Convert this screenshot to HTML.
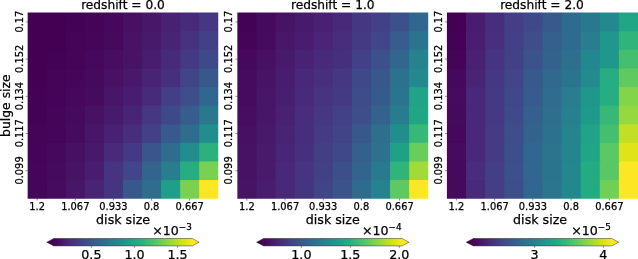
<!DOCTYPE html>
<html><head><meta charset="utf-8"><title>heatmaps</title>
<style>html,body{margin:0;padding:0;background:#fff}svg{display:block}text{font-family:"DejaVu Sans","Liberation Sans",sans-serif;fill:#000;stroke:#000;stroke-width:0.25px}</style></head><body>
<svg width="638" height="259" viewBox="0 0 638 259">
<rect width="638" height="259" fill="#fff"/>
<defs><linearGradient id="vg" x1="0" x2="1" y1="0" y2="0"><stop offset="0.0000" stop-color="#440154"/><stop offset="0.0625" stop-color="#48186a"/><stop offset="0.1250" stop-color="#472d7b"/><stop offset="0.1875" stop-color="#424086"/><stop offset="0.2500" stop-color="#3b528b"/><stop offset="0.3125" stop-color="#33638d"/><stop offset="0.3750" stop-color="#2c728e"/><stop offset="0.4375" stop-color="#26828e"/><stop offset="0.5000" stop-color="#21918c"/><stop offset="0.5625" stop-color="#1fa088"/><stop offset="0.6250" stop-color="#28ae80"/><stop offset="0.6875" stop-color="#3fbc73"/><stop offset="0.7500" stop-color="#5ec962"/><stop offset="0.8125" stop-color="#84d44b"/><stop offset="0.8750" stop-color="#addc30"/><stop offset="0.9375" stop-color="#d8e219"/><stop offset="1.0000" stop-color="#fde725"/></linearGradient></defs>
<g>
<rect x="26.15" y="11.10" width="22.06" height="21.60" fill="#440154"/>
<rect x="46.71" y="11.10" width="20.56" height="21.60" fill="#440154"/>
<rect x="65.77" y="11.10" width="20.56" height="21.60" fill="#440256"/>
<rect x="84.83" y="11.10" width="20.56" height="21.60" fill="#450457"/>
<rect x="103.89" y="11.10" width="20.56" height="21.60" fill="#46085c"/>
<rect x="122.95" y="11.10" width="20.56" height="21.60" fill="#471063"/>
<rect x="142.01" y="11.10" width="20.56" height="21.60" fill="#481769"/>
<rect x="161.07" y="11.10" width="20.56" height="21.60" fill="#482173"/>
<rect x="180.13" y="11.10" width="20.56" height="21.60" fill="#472a7a"/>
<rect x="199.19" y="11.10" width="20.56" height="21.60" fill="#453781"/>
<rect x="26.15" y="31.20" width="22.06" height="20.11" fill="#440154"/>
<rect x="46.71" y="31.20" width="20.56" height="20.11" fill="#440154"/>
<rect x="65.77" y="31.20" width="20.56" height="20.11" fill="#450457"/>
<rect x="84.83" y="31.20" width="20.56" height="20.11" fill="#450559"/>
<rect x="103.89" y="31.20" width="20.56" height="20.11" fill="#460a5d"/>
<rect x="122.95" y="31.20" width="20.56" height="20.11" fill="#471365"/>
<rect x="142.01" y="31.20" width="20.56" height="20.11" fill="#481a6c"/>
<rect x="161.07" y="31.20" width="20.56" height="20.11" fill="#482475"/>
<rect x="180.13" y="31.20" width="20.56" height="20.11" fill="#46337f"/>
<rect x="199.19" y="31.20" width="20.56" height="20.11" fill="#424086"/>
<rect x="26.15" y="49.81" width="22.06" height="20.10" fill="#440154"/>
<rect x="46.71" y="49.81" width="20.56" height="20.10" fill="#440256"/>
<rect x="65.77" y="49.81" width="20.56" height="20.10" fill="#450457"/>
<rect x="84.83" y="49.81" width="20.56" height="20.10" fill="#46085c"/>
<rect x="103.89" y="49.81" width="20.56" height="20.10" fill="#470d60"/>
<rect x="122.95" y="49.81" width="20.56" height="20.10" fill="#471365"/>
<rect x="142.01" y="49.81" width="20.56" height="20.10" fill="#481d6f"/>
<rect x="161.07" y="49.81" width="20.56" height="20.10" fill="#472a7a"/>
<rect x="180.13" y="49.81" width="20.56" height="20.10" fill="#443983"/>
<rect x="199.19" y="49.81" width="20.56" height="20.10" fill="#3e4989"/>
<rect x="26.15" y="68.41" width="22.06" height="20.11" fill="#440154"/>
<rect x="46.71" y="68.41" width="20.56" height="20.11" fill="#450457"/>
<rect x="65.77" y="68.41" width="20.56" height="20.11" fill="#450559"/>
<rect x="84.83" y="68.41" width="20.56" height="20.11" fill="#460a5d"/>
<rect x="103.89" y="68.41" width="20.56" height="20.11" fill="#471164"/>
<rect x="122.95" y="68.41" width="20.56" height="20.11" fill="#48186a"/>
<rect x="142.01" y="68.41" width="20.56" height="20.11" fill="#482475"/>
<rect x="161.07" y="68.41" width="20.56" height="20.11" fill="#46307e"/>
<rect x="180.13" y="68.41" width="20.56" height="20.11" fill="#414487"/>
<rect x="199.19" y="68.41" width="20.56" height="20.11" fill="#38588c"/>
<rect x="26.15" y="87.02" width="22.06" height="20.11" fill="#440256"/>
<rect x="46.71" y="87.02" width="20.56" height="20.11" fill="#450457"/>
<rect x="65.77" y="87.02" width="20.56" height="20.11" fill="#46085c"/>
<rect x="84.83" y="87.02" width="20.56" height="20.11" fill="#460b5e"/>
<rect x="103.89" y="87.02" width="20.56" height="20.11" fill="#481668"/>
<rect x="122.95" y="87.02" width="20.56" height="20.11" fill="#481d6f"/>
<rect x="142.01" y="87.02" width="20.56" height="20.11" fill="#472a7a"/>
<rect x="161.07" y="87.02" width="20.56" height="20.11" fill="#433e85"/>
<rect x="180.13" y="87.02" width="20.56" height="20.11" fill="#3d4e8a"/>
<rect x="199.19" y="87.02" width="20.56" height="20.11" fill="#31668e"/>
<rect x="26.15" y="105.62" width="22.06" height="20.10" fill="#440256"/>
<rect x="46.71" y="105.62" width="20.56" height="20.10" fill="#450559"/>
<rect x="65.77" y="105.62" width="20.56" height="20.10" fill="#460a5d"/>
<rect x="84.83" y="105.62" width="20.56" height="20.10" fill="#471164"/>
<rect x="103.89" y="105.62" width="20.56" height="20.10" fill="#481a6c"/>
<rect x="122.95" y="105.62" width="20.56" height="20.10" fill="#482475"/>
<rect x="142.01" y="105.62" width="20.56" height="20.10" fill="#453781"/>
<rect x="161.07" y="105.62" width="20.56" height="20.10" fill="#3e4989"/>
<rect x="180.13" y="105.62" width="20.56" height="20.10" fill="#365d8d"/>
<rect x="199.19" y="105.62" width="20.56" height="20.10" fill="#2a788e"/>
<rect x="26.15" y="124.23" width="22.06" height="20.11" fill="#450457"/>
<rect x="46.71" y="124.23" width="20.56" height="20.11" fill="#450559"/>
<rect x="65.77" y="124.23" width="20.56" height="20.11" fill="#460b5e"/>
<rect x="84.83" y="124.23" width="20.56" height="20.11" fill="#481668"/>
<rect x="103.89" y="124.23" width="20.56" height="20.11" fill="#482173"/>
<rect x="122.95" y="124.23" width="20.56" height="20.11" fill="#472e7c"/>
<rect x="142.01" y="124.23" width="20.56" height="20.11" fill="#424086"/>
<rect x="161.07" y="124.23" width="20.56" height="20.11" fill="#375a8c"/>
<rect x="180.13" y="124.23" width="20.56" height="20.11" fill="#2f6c8e"/>
<rect x="199.19" y="124.23" width="20.56" height="20.11" fill="#218e8d"/>
<rect x="26.15" y="142.84" width="22.06" height="20.10" fill="#450457"/>
<rect x="46.71" y="142.84" width="20.56" height="20.10" fill="#46085c"/>
<rect x="65.77" y="142.84" width="20.56" height="20.10" fill="#471063"/>
<rect x="84.83" y="142.84" width="20.56" height="20.10" fill="#48186a"/>
<rect x="103.89" y="142.84" width="20.56" height="20.10" fill="#472a7a"/>
<rect x="122.95" y="142.84" width="20.56" height="20.10" fill="#443a83"/>
<rect x="142.01" y="142.84" width="20.56" height="20.10" fill="#3a548c"/>
<rect x="161.07" y="142.84" width="20.56" height="20.10" fill="#2f6c8e"/>
<rect x="180.13" y="142.84" width="20.56" height="20.10" fill="#218e8d"/>
<rect x="199.19" y="142.84" width="20.56" height="20.10" fill="#2cb17e"/>
<rect x="26.15" y="161.44" width="22.06" height="20.10" fill="#450559"/>
<rect x="46.71" y="161.44" width="20.56" height="20.10" fill="#460a5d"/>
<rect x="65.77" y="161.44" width="20.56" height="20.10" fill="#471365"/>
<rect x="84.83" y="161.44" width="20.56" height="20.10" fill="#481d6f"/>
<rect x="103.89" y="161.44" width="20.56" height="20.10" fill="#463480"/>
<rect x="122.95" y="161.44" width="20.56" height="20.10" fill="#404688"/>
<rect x="142.01" y="161.44" width="20.56" height="20.10" fill="#32648e"/>
<rect x="161.07" y="161.44" width="20.56" height="20.10" fill="#287d8e"/>
<rect x="180.13" y="161.44" width="20.56" height="20.10" fill="#26ad81"/>
<rect x="199.19" y="161.44" width="20.56" height="20.10" fill="#7ad151"/>
<rect x="26.15" y="180.04" width="22.06" height="20.11" fill="#450559"/>
<rect x="46.71" y="180.04" width="20.56" height="20.11" fill="#460b5e"/>
<rect x="65.77" y="180.04" width="20.56" height="20.11" fill="#481668"/>
<rect x="84.83" y="180.04" width="20.56" height="20.11" fill="#482475"/>
<rect x="103.89" y="180.04" width="20.56" height="20.11" fill="#453581"/>
<rect x="122.95" y="180.04" width="20.56" height="20.11" fill="#38588c"/>
<rect x="142.01" y="180.04" width="20.56" height="20.11" fill="#2f6c8e"/>
<rect x="161.07" y="180.04" width="20.56" height="20.11" fill="#1f9e89"/>
<rect x="180.13" y="180.04" width="20.56" height="20.11" fill="#7ad151"/>
<rect x="199.19" y="180.04" width="20.56" height="20.11" fill="#fde725"/>
<path fill="#fff" fill-rule="evenodd" d="M24.65 9.60H221.25V201.65H24.65Z M27.65 12.60H218.25V198.65H27.65Z"/>
</g>
<text x="122.95" y="9.3" font-size="12.2" text-anchor="middle">redshift = 0.0</text>
<line x1="37.18" x2="37.18" y1="198.65" y2="200.55" stroke="#000" stroke-width="0.45"/>
<text x="37.18" y="209.8" font-size="9.9" text-anchor="middle">1.2</text>
<line x1="75.30" x2="75.30" y1="198.65" y2="200.55" stroke="#000" stroke-width="0.45"/>
<text x="75.30" y="209.8" font-size="9.9" text-anchor="middle">1.067</text>
<line x1="113.42" x2="113.42" y1="198.65" y2="200.55" stroke="#000" stroke-width="0.45"/>
<text x="113.42" y="209.8" font-size="9.9" text-anchor="middle">0.933</text>
<line x1="151.54" x2="151.54" y1="198.65" y2="200.55" stroke="#000" stroke-width="0.45"/>
<text x="151.54" y="209.8" font-size="9.9" text-anchor="middle">0.8</text>
<line x1="189.66" x2="189.66" y1="198.65" y2="200.55" stroke="#000" stroke-width="0.45"/>
<text x="189.66" y="209.8" font-size="9.9" text-anchor="middle">0.667</text>
<line x1="25.75" x2="27.65" y1="21.90" y2="21.90" stroke="#000" stroke-width="0.45"/>
<text transform="translate(22.70,21.60) rotate(-90)" font-size="9.9" text-anchor="middle">0.17</text>
<line x1="25.75" x2="27.65" y1="59.11" y2="59.11" stroke="#000" stroke-width="0.45"/>
<text transform="translate(22.70,58.81) rotate(-90)" font-size="9.9" text-anchor="middle">0.152</text>
<line x1="25.75" x2="27.65" y1="96.32" y2="96.32" stroke="#000" stroke-width="0.45"/>
<text transform="translate(22.70,96.02) rotate(-90)" font-size="9.9" text-anchor="middle">0.134</text>
<line x1="25.75" x2="27.65" y1="133.53" y2="133.53" stroke="#000" stroke-width="0.45"/>
<text transform="translate(22.70,133.23) rotate(-90)" font-size="9.9" text-anchor="middle">0.117</text>
<line x1="25.75" x2="27.65" y1="170.74" y2="170.74" stroke="#000" stroke-width="0.45"/>
<text transform="translate(22.70,170.44) rotate(-90)" font-size="9.9" text-anchor="middle">0.099</text>
<text x="123.10" y="223.8" font-size="12.65" text-anchor="middle">disk size</text>
<text transform="translate(10.0,105.62) rotate(-90)" font-size="12.4" text-anchor="middle">bulge size</text>
<polygon points="46.75,242.20 54.05,238.50 54.05,245.90" fill="#440154"/>
<polygon points="199.15,242.20 191.85,238.50 191.85,245.90" fill="#fde725"/>
<rect x="53.55" y="238.50" width="138.80" height="7.40" fill="url(#vg)"/>
<polygon points="46.75,242.20 53.55,238.50 192.35,238.50 199.15,242.20 192.35,245.90 53.55,245.90" fill="none" stroke="#000" stroke-width="0.5" stroke-opacity="0.8"/>
<line x1="91.40" x2="91.40" y1="245.90" y2="247.80" stroke="#000" stroke-width="0.45"/>
<text x="91.40" y="259.3" font-size="12.7" text-anchor="middle">0.5</text>
<line x1="134.50" x2="134.50" y1="245.90" y2="247.80" stroke="#000" stroke-width="0.45"/>
<text x="134.50" y="259.3" font-size="12.7" text-anchor="middle">1.0</text>
<line x1="177.60" x2="177.60" y1="245.90" y2="247.80" stroke="#000" stroke-width="0.45"/>
<text x="177.60" y="259.3" font-size="12.7" text-anchor="middle">1.5</text>
<text x="191.75" y="235.3" font-size="12.6" text-anchor="end">×10<tspan dy="-5.0" font-size="8.82">−3</tspan></text>
<g>
<rect x="235.85" y="11.10" width="22.09" height="21.60" fill="#440256"/>
<rect x="256.44" y="11.10" width="20.58" height="21.60" fill="#460a5d"/>
<rect x="275.52" y="11.10" width="20.59" height="21.60" fill="#471365"/>
<rect x="294.61" y="11.10" width="20.58" height="21.60" fill="#481a6c"/>
<rect x="313.69" y="11.10" width="20.58" height="21.60" fill="#482173"/>
<rect x="332.77" y="11.10" width="20.59" height="21.60" fill="#482979"/>
<rect x="351.86" y="11.10" width="20.58" height="21.60" fill="#453781"/>
<rect x="370.94" y="11.10" width="20.58" height="21.60" fill="#424186"/>
<rect x="390.03" y="11.10" width="20.59" height="21.60" fill="#3c508b"/>
<rect x="409.12" y="11.10" width="20.58" height="21.60" fill="#31678e"/>
<rect x="235.85" y="31.20" width="22.09" height="20.11" fill="#450457"/>
<rect x="256.44" y="31.20" width="20.58" height="20.11" fill="#460b5e"/>
<rect x="275.52" y="31.20" width="20.59" height="20.11" fill="#481769"/>
<rect x="294.61" y="31.20" width="20.58" height="20.11" fill="#481d6f"/>
<rect x="313.69" y="31.20" width="20.58" height="20.11" fill="#482576"/>
<rect x="332.77" y="31.20" width="20.59" height="20.11" fill="#472d7b"/>
<rect x="351.86" y="31.20" width="20.58" height="20.11" fill="#443a83"/>
<rect x="370.94" y="31.20" width="20.58" height="20.11" fill="#404688"/>
<rect x="390.03" y="31.20" width="20.59" height="20.11" fill="#365d8d"/>
<rect x="409.12" y="31.20" width="20.58" height="20.11" fill="#2b748e"/>
<rect x="235.85" y="49.81" width="22.09" height="20.10" fill="#46085c"/>
<rect x="256.44" y="49.81" width="20.58" height="20.10" fill="#471063"/>
<rect x="275.52" y="49.81" width="20.59" height="20.10" fill="#481a6c"/>
<rect x="294.61" y="49.81" width="20.58" height="20.10" fill="#482374"/>
<rect x="313.69" y="49.81" width="20.58" height="20.10" fill="#472a7a"/>
<rect x="332.77" y="49.81" width="20.59" height="20.10" fill="#46307e"/>
<rect x="351.86" y="49.81" width="20.58" height="20.10" fill="#424086"/>
<rect x="370.94" y="49.81" width="20.58" height="20.10" fill="#3c508b"/>
<rect x="390.03" y="49.81" width="20.59" height="20.10" fill="#31678e"/>
<rect x="409.12" y="49.81" width="20.58" height="20.10" fill="#26828e"/>
<rect x="235.85" y="68.41" width="22.09" height="20.11" fill="#460b5e"/>
<rect x="256.44" y="68.41" width="20.58" height="20.11" fill="#471365"/>
<rect x="275.52" y="68.41" width="20.59" height="20.11" fill="#481d6f"/>
<rect x="294.61" y="68.41" width="20.58" height="20.11" fill="#482878"/>
<rect x="313.69" y="68.41" width="20.58" height="20.11" fill="#46307e"/>
<rect x="332.77" y="68.41" width="20.59" height="20.11" fill="#453781"/>
<rect x="351.86" y="68.41" width="20.58" height="20.11" fill="#3f4889"/>
<rect x="370.94" y="68.41" width="20.58" height="20.11" fill="#38588c"/>
<rect x="390.03" y="68.41" width="20.59" height="20.11" fill="#2c728e"/>
<rect x="409.12" y="68.41" width="20.58" height="20.11" fill="#23898e"/>
<rect x="235.85" y="87.02" width="22.09" height="20.11" fill="#460b5e"/>
<rect x="256.44" y="87.02" width="20.58" height="20.11" fill="#481668"/>
<rect x="275.52" y="87.02" width="20.59" height="20.11" fill="#481f70"/>
<rect x="294.61" y="87.02" width="20.58" height="20.11" fill="#472a7a"/>
<rect x="313.69" y="87.02" width="20.58" height="20.11" fill="#463480"/>
<rect x="332.77" y="87.02" width="20.59" height="20.11" fill="#443a83"/>
<rect x="351.86" y="87.02" width="20.58" height="20.11" fill="#3e4c8a"/>
<rect x="370.94" y="87.02" width="20.58" height="20.11" fill="#375a8c"/>
<rect x="390.03" y="87.02" width="20.59" height="20.11" fill="#2c738e"/>
<rect x="409.12" y="87.02" width="20.58" height="20.11" fill="#20a386"/>
<rect x="235.85" y="105.62" width="22.09" height="20.10" fill="#470d60"/>
<rect x="256.44" y="105.62" width="20.58" height="20.10" fill="#481668"/>
<rect x="275.52" y="105.62" width="20.59" height="20.10" fill="#482173"/>
<rect x="294.61" y="105.62" width="20.58" height="20.10" fill="#472d7b"/>
<rect x="313.69" y="105.62" width="20.58" height="20.10" fill="#453781"/>
<rect x="332.77" y="105.62" width="20.59" height="20.10" fill="#424086"/>
<rect x="351.86" y="105.62" width="20.58" height="20.10" fill="#3c4f8a"/>
<rect x="370.94" y="105.62" width="20.58" height="20.10" fill="#33628d"/>
<rect x="390.03" y="105.62" width="20.59" height="20.10" fill="#287c8e"/>
<rect x="409.12" y="105.62" width="20.58" height="20.10" fill="#21a685"/>
<rect x="235.85" y="124.23" width="22.09" height="20.11" fill="#471063"/>
<rect x="256.44" y="124.23" width="20.58" height="20.11" fill="#48186a"/>
<rect x="275.52" y="124.23" width="20.59" height="20.11" fill="#482475"/>
<rect x="294.61" y="124.23" width="20.58" height="20.11" fill="#472e7c"/>
<rect x="313.69" y="124.23" width="20.58" height="20.11" fill="#443b84"/>
<rect x="332.77" y="124.23" width="20.59" height="20.11" fill="#414487"/>
<rect x="351.86" y="124.23" width="20.58" height="20.11" fill="#38588c"/>
<rect x="370.94" y="124.23" width="20.58" height="20.11" fill="#2e6f8e"/>
<rect x="390.03" y="124.23" width="20.59" height="20.11" fill="#218e8d"/>
<rect x="409.12" y="124.23" width="20.58" height="20.11" fill="#37b878"/>
<rect x="235.85" y="142.84" width="22.09" height="20.10" fill="#471164"/>
<rect x="256.44" y="142.84" width="20.58" height="20.10" fill="#481a6c"/>
<rect x="275.52" y="142.84" width="20.59" height="20.10" fill="#482576"/>
<rect x="294.61" y="142.84" width="20.58" height="20.10" fill="#46307e"/>
<rect x="313.69" y="142.84" width="20.58" height="20.10" fill="#423f85"/>
<rect x="332.77" y="142.84" width="20.59" height="20.10" fill="#3f4889"/>
<rect x="351.86" y="142.84" width="20.58" height="20.10" fill="#355f8d"/>
<rect x="370.94" y="142.84" width="20.58" height="20.10" fill="#2c728e"/>
<rect x="390.03" y="142.84" width="20.59" height="20.10" fill="#1fa188"/>
<rect x="409.12" y="142.84" width="20.58" height="20.10" fill="#69cd5b"/>
<rect x="235.85" y="161.44" width="22.09" height="20.10" fill="#471164"/>
<rect x="256.44" y="161.44" width="20.58" height="20.10" fill="#481a6c"/>
<rect x="275.52" y="161.44" width="20.59" height="20.10" fill="#482878"/>
<rect x="294.61" y="161.44" width="20.58" height="20.10" fill="#463480"/>
<rect x="313.69" y="161.44" width="20.58" height="20.10" fill="#424186"/>
<rect x="332.77" y="161.44" width="20.59" height="20.10" fill="#3c4f8a"/>
<rect x="351.86" y="161.44" width="20.58" height="20.10" fill="#32648e"/>
<rect x="370.94" y="161.44" width="20.58" height="20.10" fill="#297a8e"/>
<rect x="390.03" y="161.44" width="20.59" height="20.10" fill="#2fb47c"/>
<rect x="409.12" y="161.44" width="20.58" height="20.10" fill="#a2da37"/>
<rect x="235.85" y="180.04" width="22.09" height="20.11" fill="#471365"/>
<rect x="256.44" y="180.04" width="20.58" height="20.11" fill="#481d6f"/>
<rect x="275.52" y="180.04" width="20.59" height="20.11" fill="#482979"/>
<rect x="294.61" y="180.04" width="20.58" height="20.11" fill="#453581"/>
<rect x="313.69" y="180.04" width="20.58" height="20.11" fill="#404588"/>
<rect x="332.77" y="180.04" width="20.59" height="20.11" fill="#3a538b"/>
<rect x="351.86" y="180.04" width="20.58" height="20.11" fill="#2f6b8e"/>
<rect x="370.94" y="180.04" width="20.58" height="20.11" fill="#26828e"/>
<rect x="390.03" y="180.04" width="20.59" height="20.11" fill="#5ec962"/>
<rect x="409.12" y="180.04" width="20.58" height="20.11" fill="#fde725"/>
<path fill="#fff" fill-rule="evenodd" d="M234.35 9.60H431.20V201.65H234.35Z M237.35 12.60H428.20V198.65H237.35Z"/>
</g>
<text x="332.77" y="9.3" font-size="12.2" text-anchor="middle">redshift = 1.0</text>
<line x1="246.89" x2="246.89" y1="198.65" y2="200.55" stroke="#000" stroke-width="0.45"/>
<text x="246.89" y="209.8" font-size="9.9" text-anchor="middle">1.2</text>
<line x1="285.06" x2="285.06" y1="198.65" y2="200.55" stroke="#000" stroke-width="0.45"/>
<text x="285.06" y="209.8" font-size="9.9" text-anchor="middle">1.067</text>
<line x1="323.23" x2="323.23" y1="198.65" y2="200.55" stroke="#000" stroke-width="0.45"/>
<text x="323.23" y="209.8" font-size="9.9" text-anchor="middle">0.933</text>
<line x1="361.40" x2="361.40" y1="198.65" y2="200.55" stroke="#000" stroke-width="0.45"/>
<text x="361.40" y="209.8" font-size="9.9" text-anchor="middle">0.8</text>
<line x1="399.57" x2="399.57" y1="198.65" y2="200.55" stroke="#000" stroke-width="0.45"/>
<text x="399.57" y="209.8" font-size="9.9" text-anchor="middle">0.667</text>
<line x1="235.45" x2="237.35" y1="21.90" y2="21.90" stroke="#000" stroke-width="0.45"/>
<text transform="translate(231.90,21.60) rotate(-90)" font-size="9.9" text-anchor="middle">0.17</text>
<line x1="235.45" x2="237.35" y1="59.11" y2="59.11" stroke="#000" stroke-width="0.45"/>
<text transform="translate(231.90,58.81) rotate(-90)" font-size="9.9" text-anchor="middle">0.152</text>
<line x1="235.45" x2="237.35" y1="96.32" y2="96.32" stroke="#000" stroke-width="0.45"/>
<text transform="translate(231.90,96.02) rotate(-90)" font-size="9.9" text-anchor="middle">0.134</text>
<line x1="235.45" x2="237.35" y1="133.53" y2="133.53" stroke="#000" stroke-width="0.45"/>
<text transform="translate(231.90,133.23) rotate(-90)" font-size="9.9" text-anchor="middle">0.117</text>
<line x1="235.45" x2="237.35" y1="170.74" y2="170.74" stroke="#000" stroke-width="0.45"/>
<text transform="translate(231.90,170.44) rotate(-90)" font-size="9.9" text-anchor="middle">0.099</text>
<text x="332.77" y="223.8" font-size="12.65" text-anchor="middle">disk size</text>
<polygon points="256.57,242.20 263.88,238.50 263.88,245.90" fill="#440154"/>
<polygon points="408.98,242.20 401.68,238.50 401.68,245.90" fill="#fde725"/>
<rect x="263.38" y="238.50" width="138.80" height="7.40" fill="url(#vg)"/>
<polygon points="256.57,242.20 263.38,238.50 402.18,238.50 408.98,242.20 402.18,245.90 263.38,245.90" fill="none" stroke="#000" stroke-width="0.5" stroke-opacity="0.8"/>
<line x1="301.40" x2="301.40" y1="245.90" y2="247.80" stroke="#000" stroke-width="0.45"/>
<text x="301.40" y="259.3" font-size="12.7" text-anchor="middle">1.0</text>
<line x1="350.30" x2="350.30" y1="245.90" y2="247.80" stroke="#000" stroke-width="0.45"/>
<text x="350.30" y="259.3" font-size="12.7" text-anchor="middle">1.5</text>
<line x1="399.30" x2="399.30" y1="245.90" y2="247.80" stroke="#000" stroke-width="0.45"/>
<text x="399.30" y="259.3" font-size="12.7" text-anchor="middle">2.0</text>
<text x="401.58" y="235.3" font-size="12.6" text-anchor="end">×10<tspan dy="-5.0" font-size="8.82">−4</tspan></text>
<g>
<rect x="445.40" y="11.10" width="22.11" height="21.60" fill="#440154"/>
<rect x="466.01" y="11.10" width="20.61" height="21.60" fill="#481c6e"/>
<rect x="485.12" y="11.10" width="20.61" height="21.60" fill="#472e7c"/>
<rect x="504.23" y="11.10" width="20.61" height="21.60" fill="#433e85"/>
<rect x="523.34" y="11.10" width="20.61" height="21.60" fill="#3e4989"/>
<rect x="542.45" y="11.10" width="20.61" height="21.60" fill="#38598c"/>
<rect x="561.56" y="11.10" width="20.61" height="21.60" fill="#2f6b8e"/>
<rect x="580.67" y="11.10" width="20.61" height="21.60" fill="#2a788e"/>
<rect x="599.78" y="11.10" width="20.61" height="21.60" fill="#23898e"/>
<rect x="618.89" y="11.10" width="20.61" height="21.60" fill="#21a685"/>
<rect x="445.40" y="31.20" width="22.11" height="20.11" fill="#440256"/>
<rect x="466.01" y="31.20" width="20.61" height="20.11" fill="#481f70"/>
<rect x="485.12" y="31.20" width="20.61" height="20.11" fill="#46307e"/>
<rect x="504.23" y="31.20" width="20.61" height="20.11" fill="#424086"/>
<rect x="523.34" y="31.20" width="20.61" height="20.11" fill="#3d4e8a"/>
<rect x="542.45" y="31.20" width="20.61" height="20.11" fill="#355f8d"/>
<rect x="561.56" y="31.20" width="20.61" height="20.11" fill="#2f6b8e"/>
<rect x="580.67" y="31.20" width="20.61" height="20.11" fill="#287d8e"/>
<rect x="599.78" y="31.20" width="20.61" height="20.11" fill="#1f978b"/>
<rect x="618.89" y="31.20" width="20.61" height="20.11" fill="#2fb47c"/>
<rect x="445.40" y="49.81" width="22.11" height="20.10" fill="#450457"/>
<rect x="466.01" y="49.81" width="20.61" height="20.10" fill="#482173"/>
<rect x="485.12" y="49.81" width="20.61" height="20.10" fill="#463480"/>
<rect x="504.23" y="49.81" width="20.61" height="20.10" fill="#424186"/>
<rect x="523.34" y="49.81" width="20.61" height="20.10" fill="#3b528b"/>
<rect x="542.45" y="49.81" width="20.61" height="20.10" fill="#33628d"/>
<rect x="561.56" y="49.81" width="20.61" height="20.10" fill="#2e6f8e"/>
<rect x="580.67" y="49.81" width="20.61" height="20.10" fill="#23888e"/>
<rect x="599.78" y="49.81" width="20.61" height="20.10" fill="#1f988b"/>
<rect x="618.89" y="49.81" width="20.61" height="20.10" fill="#44bf70"/>
<rect x="445.40" y="68.41" width="22.11" height="20.11" fill="#46085c"/>
<rect x="466.01" y="68.41" width="20.61" height="20.11" fill="#482475"/>
<rect x="485.12" y="68.41" width="20.61" height="20.11" fill="#453781"/>
<rect x="504.23" y="68.41" width="20.61" height="20.11" fill="#404688"/>
<rect x="523.34" y="68.41" width="20.61" height="20.11" fill="#375a8c"/>
<rect x="542.45" y="68.41" width="20.61" height="20.11" fill="#31688e"/>
<rect x="561.56" y="68.41" width="20.61" height="20.11" fill="#2b748e"/>
<rect x="580.67" y="68.41" width="20.61" height="20.11" fill="#238a8d"/>
<rect x="599.78" y="68.41" width="20.61" height="20.11" fill="#26ad81"/>
<rect x="618.89" y="68.41" width="20.61" height="20.11" fill="#60ca60"/>
<rect x="445.40" y="87.02" width="22.11" height="20.11" fill="#460b5e"/>
<rect x="466.01" y="87.02" width="20.61" height="20.11" fill="#482878"/>
<rect x="485.12" y="87.02" width="20.61" height="20.11" fill="#443983"/>
<rect x="504.23" y="87.02" width="20.61" height="20.11" fill="#3f4889"/>
<rect x="523.34" y="87.02" width="20.61" height="20.11" fill="#375b8d"/>
<rect x="542.45" y="87.02" width="20.61" height="20.11" fill="#2f6c8e"/>
<rect x="561.56" y="87.02" width="20.61" height="20.11" fill="#287d8e"/>
<rect x="580.67" y="87.02" width="20.61" height="20.11" fill="#1f978b"/>
<rect x="599.78" y="87.02" width="20.61" height="20.11" fill="#26ad81"/>
<rect x="618.89" y="87.02" width="20.61" height="20.11" fill="#84d44b"/>
<rect x="445.40" y="105.62" width="22.11" height="20.10" fill="#460a5d"/>
<rect x="466.01" y="105.62" width="20.61" height="20.10" fill="#482878"/>
<rect x="485.12" y="105.62" width="20.61" height="20.10" fill="#443a83"/>
<rect x="504.23" y="105.62" width="20.61" height="20.10" fill="#3e4a89"/>
<rect x="523.34" y="105.62" width="20.61" height="20.10" fill="#355f8d"/>
<rect x="542.45" y="105.62" width="20.61" height="20.10" fill="#2e6f8e"/>
<rect x="561.56" y="105.62" width="20.61" height="20.10" fill="#27808e"/>
<rect x="580.67" y="105.62" width="20.61" height="20.10" fill="#1f9a8a"/>
<rect x="599.78" y="105.62" width="20.61" height="20.10" fill="#37b878"/>
<rect x="618.89" y="105.62" width="20.61" height="20.10" fill="#95d840"/>
<rect x="445.40" y="124.23" width="22.11" height="20.11" fill="#46085c"/>
<rect x="466.01" y="124.23" width="20.61" height="20.11" fill="#482979"/>
<rect x="485.12" y="124.23" width="20.61" height="20.11" fill="#443b84"/>
<rect x="504.23" y="124.23" width="20.61" height="20.11" fill="#3d4e8a"/>
<rect x="523.34" y="124.23" width="20.61" height="20.11" fill="#33628d"/>
<rect x="542.45" y="124.23" width="20.61" height="20.11" fill="#2c728e"/>
<rect x="561.56" y="124.23" width="20.61" height="20.11" fill="#25848e"/>
<rect x="580.67" y="124.23" width="20.61" height="20.11" fill="#20a386"/>
<rect x="599.78" y="124.23" width="20.61" height="20.11" fill="#44bf70"/>
<rect x="618.89" y="124.23" width="20.61" height="20.11" fill="#c2df23"/>
<rect x="445.40" y="142.84" width="22.11" height="20.10" fill="#460b5e"/>
<rect x="466.01" y="142.84" width="20.61" height="20.10" fill="#482979"/>
<rect x="485.12" y="142.84" width="20.61" height="20.10" fill="#443b84"/>
<rect x="504.23" y="142.84" width="20.61" height="20.10" fill="#3c4f8a"/>
<rect x="523.34" y="142.84" width="20.61" height="20.10" fill="#31678e"/>
<rect x="542.45" y="142.84" width="20.61" height="20.10" fill="#2c738e"/>
<rect x="561.56" y="142.84" width="20.61" height="20.10" fill="#25858e"/>
<rect x="580.67" y="142.84" width="20.61" height="20.10" fill="#21a685"/>
<rect x="599.78" y="142.84" width="20.61" height="20.10" fill="#5ac864"/>
<rect x="618.89" y="142.84" width="20.61" height="20.10" fill="#dfe318"/>
<rect x="445.40" y="161.44" width="22.11" height="20.10" fill="#460a5d"/>
<rect x="466.01" y="161.44" width="20.61" height="20.10" fill="#472d7b"/>
<rect x="485.12" y="161.44" width="20.61" height="20.10" fill="#433e85"/>
<rect x="504.23" y="161.44" width="20.61" height="20.10" fill="#3c508b"/>
<rect x="523.34" y="161.44" width="20.61" height="20.10" fill="#31668e"/>
<rect x="542.45" y="161.44" width="20.61" height="20.10" fill="#2b748e"/>
<rect x="561.56" y="161.44" width="20.61" height="20.10" fill="#24868e"/>
<rect x="580.67" y="161.44" width="20.61" height="20.10" fill="#25ab82"/>
<rect x="599.78" y="161.44" width="20.61" height="20.10" fill="#58c765"/>
<rect x="618.89" y="161.44" width="20.61" height="20.10" fill="#fde725"/>
<rect x="445.40" y="180.04" width="22.11" height="20.11" fill="#460a5d"/>
<rect x="466.01" y="180.04" width="20.61" height="20.11" fill="#472a7a"/>
<rect x="485.12" y="180.04" width="20.61" height="20.11" fill="#433e85"/>
<rect x="504.23" y="180.04" width="20.61" height="20.11" fill="#3c4f8a"/>
<rect x="523.34" y="180.04" width="20.61" height="20.11" fill="#31668e"/>
<rect x="542.45" y="180.04" width="20.61" height="20.11" fill="#2b758e"/>
<rect x="561.56" y="180.04" width="20.61" height="20.11" fill="#23888e"/>
<rect x="580.67" y="180.04" width="20.61" height="20.11" fill="#25ab82"/>
<rect x="599.78" y="180.04" width="20.61" height="20.11" fill="#70cf57"/>
<rect x="618.89" y="180.04" width="20.61" height="20.11" fill="#fde725"/>
<path fill="#fff" fill-rule="evenodd" d="M443.90 9.60H641.00V201.65H443.90Z M446.90 12.60H638.00V198.65H446.90Z"/>
</g>
<text x="541.95" y="9.3" font-size="12.2" text-anchor="middle">redshift = 2.0</text>
<line x1="456.45" x2="456.45" y1="198.65" y2="200.55" stroke="#000" stroke-width="0.45"/>
<text x="456.45" y="209.8" font-size="9.9" text-anchor="middle">1.2</text>
<line x1="494.67" x2="494.67" y1="198.65" y2="200.55" stroke="#000" stroke-width="0.45"/>
<text x="494.67" y="209.8" font-size="9.9" text-anchor="middle">1.067</text>
<line x1="532.89" x2="532.89" y1="198.65" y2="200.55" stroke="#000" stroke-width="0.45"/>
<text x="532.89" y="209.8" font-size="9.9" text-anchor="middle">0.933</text>
<line x1="571.12" x2="571.12" y1="198.65" y2="200.55" stroke="#000" stroke-width="0.45"/>
<text x="571.12" y="209.8" font-size="9.9" text-anchor="middle">0.8</text>
<line x1="609.34" x2="609.34" y1="198.65" y2="200.55" stroke="#000" stroke-width="0.45"/>
<text x="609.34" y="209.8" font-size="9.9" text-anchor="middle">0.667</text>
<line x1="445.00" x2="446.90" y1="21.90" y2="21.90" stroke="#000" stroke-width="0.45"/>
<text transform="translate(441.60,21.60) rotate(-90)" font-size="9.9" text-anchor="middle">0.17</text>
<line x1="445.00" x2="446.90" y1="59.11" y2="59.11" stroke="#000" stroke-width="0.45"/>
<text transform="translate(441.60,58.81) rotate(-90)" font-size="9.9" text-anchor="middle">0.152</text>
<line x1="445.00" x2="446.90" y1="96.32" y2="96.32" stroke="#000" stroke-width="0.45"/>
<text transform="translate(441.60,96.02) rotate(-90)" font-size="9.9" text-anchor="middle">0.134</text>
<line x1="445.00" x2="446.90" y1="133.53" y2="133.53" stroke="#000" stroke-width="0.45"/>
<text transform="translate(441.60,133.23) rotate(-90)" font-size="9.9" text-anchor="middle">0.117</text>
<line x1="445.00" x2="446.90" y1="170.74" y2="170.74" stroke="#000" stroke-width="0.45"/>
<text transform="translate(441.60,170.44) rotate(-90)" font-size="9.9" text-anchor="middle">0.099</text>
<text x="540.10" y="223.8" font-size="12.65" text-anchor="middle">disk size</text>
<polygon points="466.25,242.20 473.55,238.50 473.55,245.90" fill="#440154"/>
<polygon points="618.65,242.20 611.35,238.50 611.35,245.90" fill="#fde725"/>
<rect x="473.05" y="238.50" width="138.80" height="7.40" fill="url(#vg)"/>
<polygon points="466.25,242.20 473.05,238.50 611.85,238.50 618.65,242.20 611.85,245.90 473.05,245.90" fill="none" stroke="#000" stroke-width="0.5" stroke-opacity="0.8"/>
<line x1="534.60" x2="534.60" y1="245.90" y2="247.80" stroke="#000" stroke-width="0.45"/>
<text x="534.60" y="259.3" font-size="12.7" text-anchor="middle">3</text>
<line x1="603.40" x2="603.40" y1="245.90" y2="247.80" stroke="#000" stroke-width="0.45"/>
<text x="603.40" y="259.3" font-size="12.7" text-anchor="middle">4</text>
<text x="610.75" y="235.3" font-size="12.6" text-anchor="end">×10<tspan dy="-5.0" font-size="8.82">−5</tspan></text>
</svg></body></html>
